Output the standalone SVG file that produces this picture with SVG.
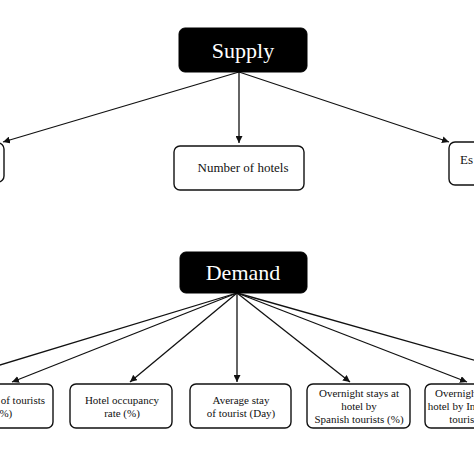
<svg xmlns="http://www.w3.org/2000/svg" width="474" height="474" viewBox="0 0 474 474">
<defs>
<style>
.head{fill:#000;stroke:#000;stroke-width:1}
.headtxt{font-family:"Liberation Serif","Times New Roman",serif;font-size:22px;fill:#fff;text-anchor:middle}
.box{fill:#fff;stroke:#111;stroke-width:1.4}
.t13{font-family:"Liberation Serif","Times New Roman",serif;font-size:13px;fill:#111;text-anchor:middle}
.t11{font-family:"Liberation Serif","Times New Roman",serif;font-size:11px;fill:#111;text-anchor:middle}
.conn line{stroke:#111;stroke-width:1.3;fill:none}
</style>
<marker id="arr" viewBox="0 0 10 10" refX="10" refY="5" markerWidth="7" markerHeight="7" markerUnits="userSpaceOnUse" orient="auto">
<path d="M0,0 L10,5 L0,10 z" fill="#111"/>
</marker>
</defs>
<rect width="474" height="474" fill="#fff"/>

<g class="conn">
<line x1="239" y1="72" x2="3" y2="142" marker-end="url(#arr)"/>
<line x1="239" y1="72" x2="239" y2="143" marker-end="url(#arr)"/>
<line x1="239" y1="72" x2="449" y2="142" marker-end="url(#arr)"/>
<line x1="237" y1="293" x2="-10" y2="368"/>
<line x1="237" y1="293" x2="12" y2="382" marker-end="url(#arr)"/>
<line x1="237" y1="293" x2="130" y2="382" marker-end="url(#arr)"/>
<line x1="237" y1="293" x2="237" y2="382" marker-end="url(#arr)"/>
<line x1="237" y1="293" x2="350" y2="382" marker-end="url(#arr)"/>
<line x1="237" y1="293" x2="467" y2="382" marker-end="url(#arr)"/>
<line x1="237" y1="293" x2="484" y2="363"/>
</g>

<g id="supply">
<rect class="head" x="179" y="28" width="128" height="44" rx="6"/>
<text class="headtxt" x="243" y="58">Supply</text>
</g>
<g id="supply-left">
<rect class="box" x="-126" y="143" width="130" height="39" rx="6"/>
</g>
<g id="number-of-hotels">
<rect class="box" x="174" y="146" width="130" height="44" rx="6"/>
<text class="t13" x="243" y="172">Number of hotels</text>
</g>
<g id="supply-right">
<rect class="box" x="449" y="142" width="130" height="43" rx="6"/>
<text class="t13" x="460" y="164" style="text-anchor:start">Es</text>
</g>

<g id="demand">
<rect class="head" x="180" y="252" width="127" height="41" rx="6"/>
<text class="headtxt" x="243" y="280">Demand</text>
</g>
<g id="tourists">
<rect class="box" x="-49" y="384" width="102" height="44" rx="6"/>
<text class="t11" x="45" y="404" style="text-anchor:end">of tourists</text>
<text class="t11" x="4" y="417">(%)</text>
</g>
<g id="occupancy">
<rect class="box" x="70" y="384" width="102" height="44" rx="6"/>
<text class="t11" x="122" y="404">Hotel occupancy</text>
<text class="t11" x="122" y="417">rate (%)</text>
</g>
<g id="average-stay">
<rect class="box" x="190" y="384" width="101" height="44" rx="6"/>
<text class="t11" x="241" y="404">Average stay</text>
<text class="t11" x="241" y="417">of tourist (Day)</text>
</g>
<g id="spanish">
<rect class="box" x="307" y="384" width="103" height="44" rx="6"/>
<text class="t11" x="359" y="397">Overnight stays at</text>
<text class="t11" x="359" y="410">hotel by</text>
<text class="t11" x="359" y="423">Spanish tourists (%)</text>
</g>
<g id="international">
<rect class="box" x="425" y="384" width="102" height="44" rx="6"/>
<text class="t11" x="475" y="397">Overnight stays at</text>
<text class="t11" x="475" y="410">hotel by International</text>
<text class="t11" x="475" y="423">tourists (%)</text>
</g>
</svg>
